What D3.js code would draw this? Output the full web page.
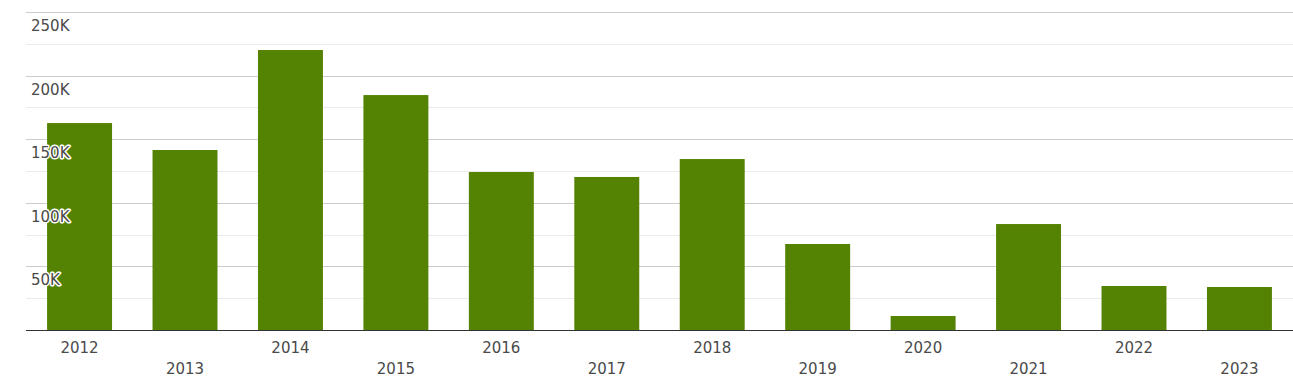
<!DOCTYPE html>
<html>
<head>
<meta charset="utf-8">
<script src="https://cdn.jsdelivr.net/npm/d3@7"></script>
<style>
  body { margin: 0; background: #fff; }
  svg text { font-family: "DejaVu Sans", sans-serif; font-size: 15px; fill: #4a4a4a; }
</style>
</head>
<body>
<svg id="bar" width="1293" height="384"></svg>
<script>
// data
var years = ["2012", "2013", "2014", "2015", "2016", "2017", "2018", "2019", "2020", "2021", "2022", "2023"];
var values = [162700, 141500, 220100, 184700, 124200, 120300, 134400, 67600, 11000, 83300, 34600, 33800];
var majorTicks = [50000, 100000, 150000, 200000, 250000];
var minorTicks = [25000, 75000, 125000, 175000, 225000];

var width = 1293, height = 384;
var margin = { top: 12, right: 0, bottom: 54, left: 26 };

var svg = d3.select("#bar");

var x = d3.scaleBand()
  .domain(years)
  .range([margin.left, width - margin.right])
  .paddingInner(0.384)
  .paddingOuter(0.2);

var y = d3.scaleLinear()
  .domain([0, 250000])
  .range([height - margin.bottom, margin.top]);

// Gridlines
svg.append("g").selectAll("line.minor")
  .data(minorTicks)
  .join("line")
  .attr("x1", margin.left).attr("x2", width)
  .attr("y1", d => Math.round(y(d)) + 0.5).attr("y2", d => Math.round(y(d)) + 0.5)
  .attr("stroke", "#ebebeb");

svg.append("g").selectAll("line.major")
  .data(majorTicks)
  .join("line")
  .attr("x1", margin.left).attr("x2", width)
  .attr("y1", d => Math.round(y(d)) + 0.5).attr("y2", d => Math.round(y(d)) + 0.5)
  .attr("stroke", "#cccccc");

// Bars
svg.append("g").selectAll("rect")
  .data(years)
  .join("rect")
  .attr("x", d => x(d))
  .attr("width", x.bandwidth())
  .attr("y", (d, i) => y(values[i]))
  .attr("height", (d, i) => y(0) - y(values[i]))
  .attr("fill", "#548203");

// Baseline
svg.append("line")
  .attr("x1", margin.left).attr("x2", width)
  .attr("y1", Math.round(y(0)) + 0.5).attr("y2", Math.round(y(0)) + 0.5)
  .attr("stroke", "#333");

// Y labels, inside plot with white halo
svg.append("g").selectAll("text")
  .data(majorTicks)
  .join("text")
  .attr("x", 31)
  .attr("y", d => y(d) + 19)
  .attr("stroke", "#fff")
  .attr("stroke-width", 3)
  .attr("stroke-linejoin", "round")
  .attr("paint-order", "stroke")
  .text(d => d3.format("~s")(d).replace("k", "K"));

// X labels, alternating rows
var xAxis = d3.axisBottom(x).tickSize(0).tickPadding(0);
var gx = svg.append("g")
  .attr("transform", `translate(0,${y(0)})`)
  .call(xAxis);
gx.select(".domain").remove();
gx.selectAll("text")
  .attr("dy", null)
  .attr("y", (d, i) => i % 2 === 0 ? 23 : 43.5)
  .style("font-size", "15px")
  .style("font-family", "DejaVu Sans, sans-serif")
  .attr("fill", "#4a4a4a");
</script>
</body>
</html>
